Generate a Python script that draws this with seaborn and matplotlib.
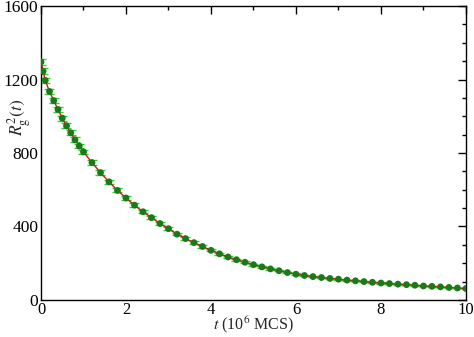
import matplotlib
matplotlib.use("Agg")
import matplotlib.pyplot as plt
import seaborn as sns
import pandas as pd
from matplotlib.ticker import MultipleLocator

t = [0.0, 0.05, 0.1, 0.2, 0.3, 0.4, 0.5, 0.6, 0.7, 0.8, 0.9, 1.0,
     1.2, 1.4, 1.6, 1.8, 2.0, 2.2, 2.4, 2.6, 2.8, 3.0,
     3.2, 3.4, 3.6, 3.8, 4.0, 4.2, 4.4, 4.6, 4.8, 5.0,
     5.2, 5.4, 5.6, 5.8, 6.0, 6.2, 6.4, 6.6, 6.8, 7.0,
     7.2, 7.4, 7.6, 7.8, 8.0, 8.2, 8.4, 8.6, 8.8, 9.0,
     9.2, 9.4, 9.6, 9.8, 10.0]
rg2 = [1296, 1245, 1195, 1135, 1085, 1037, 990, 948, 910, 872, 838, 806,
       748, 693, 643, 596, 555, 516, 480, 448, 416, 388,
       358, 334, 312, 291, 270, 251, 234, 219, 205, 192,
       180, 169, 159, 149, 140, 133, 127, 122, 117, 113,
       108, 104, 100, 96, 92, 89, 86, 83, 80, 76,
       74, 71, 68, 65, 62]
err = [16, 16, 16, 15, 15, 15, 14, 14, 14, 13, 13, 13,
       12, 12, 11, 11, 10, 10, 9, 9, 8, 8,
       7, 7, 7, 6, 6, 6, 5, 5, 5, 5,
       4, 4, 4, 4, 4, 3, 3, 3, 3, 3,
       3, 3, 3, 3, 3, 2, 2, 2, 2, 2,
       2, 2, 2, 2, 2]

xticks = [0, 2, 4, 6, 8, 10]
yticks = [0, 400, 800, 1200, 1600]

df = pd.DataFrame({"t": t, "rg2": rg2, "err": err})

sns.set_style("white")
plt.rcParams['font.family'] = ['Liberation Serif', 'DejaVu Serif']
plt.rcParams['mathtext.fontset'] = 'stix'

fig = plt.figure(figsize=(4.74, 3.37), dpi=100)
ax = fig.add_axes([0.0865, 0.110, 0.8965, 0.872])

ax.errorbar(df["t"], df["rg2"], yerr=df["err"], fmt="none",
            ecolor="#33cc33", elinewidth=1.0, capsize=3.5, capthick=1.0, zorder=2)
sns.lineplot(data=df, x="t", y="rg2", ax=ax, color="#dd1111", linewidth=1.0,
             zorder=3, estimator=None)
sns.scatterplot(data=df, x="t", y="rg2", ax=ax, color="#1a7a1a", s=24,
                edgecolor="none", zorder=4)

ax.set_xlim(0, 10)
ax.set_ylim(0, 1600)
ax.set_xticks(xticks)
ax.set_yticks(yticks)
ax.set_xticklabels([str(v) for v in xticks])
ax.set_yticklabels([str(v) for v in yticks])
ax.xaxis.set_minor_locator(MultipleLocator(1))
ax.yaxis.set_minor_locator(MultipleLocator(100))
ax.tick_params(which="both", direction="in", top=True, right=True,
               labelsize=12.5, pad=2, colors="black", width=1.0)
ax.tick_params(axis="x", which="major", pad=1.5, labelsize=12)
ax.tick_params(which="major", length=6)
ax.tick_params(which="minor", length=3)
for s in ax.spines.values():
    s.set_color("black")
    s.set_linewidth(1.0)

ax.set_xlabel(r"$t$ (10$^{6}$ MCS)", fontsize=11.5)
ax.xaxis.set_label_coords(0.5, -0.085)
ax.xaxis.label.set_verticalalignment("center")
ax.set_ylabel(r"$R_{\mathrm{g}}^{2}(t)$", fontsize=12.5)
ax.yaxis.set_label_coords(-0.052, 0.62)
ax.yaxis.label.set_verticalalignment("center")

fig.savefig("out.png", dpi=100)
